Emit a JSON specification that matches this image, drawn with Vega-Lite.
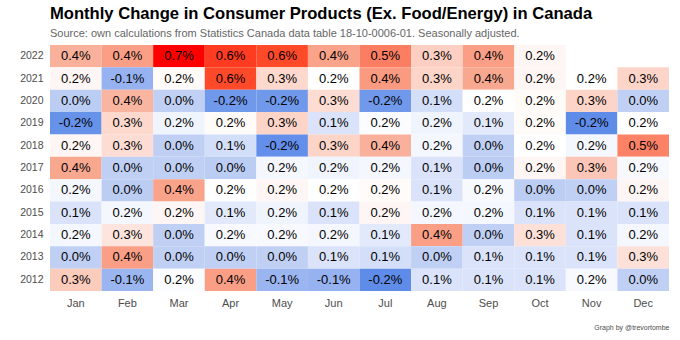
{
  "$schema": "https://vega.github.io/schema/vega-lite/v6.json",
  "width": 619,
  "height": 246,
  "autosize": {"type": "none"},
  "padding": {"left": 50, "top": 45, "right": 11, "bottom": 49},
  "background": "white",
  "config": {"view": {"stroke": null}, "font": "Liberation Sans"},
  "title": {
    "text": "Monthly Change in Consumer Products (Ex. Food/Energy) in Canada",
    "subtitle": "Source: own calculations from Statistics Canada data table 18-10-0006-01. Seasonally adjusted.",
    "anchor": "start",
    "frame": "group",
    "offset": 6,
    "font": "Liberation Sans",
    "fontSize": 16.6,
    "fontWeight": "bold",
    "color": "#000000",
    "subtitleFont": "Liberation Sans",
    "subtitleFontSize": 11,
    "subtitleColor": "#666666",
    "subtitlePadding": 5
  },
  "data": {"values": [
    {"y":2022,"m":"Jan","v":0.38,"t":"0.4%"},{"y":2022,"m":"Feb","v":0.42,"t":"0.4%"},{"y":2022,"m":"Mar","v":0.7,"t":"0.7%"},{"y":2022,"m":"Apr","v":0.62,"t":"0.6%"},{"y":2022,"m":"May","v":0.6,"t":"0.6%"},{"y":2022,"m":"Jun","v":0.41,"t":"0.4%"},{"y":2022,"m":"Jul","v":0.49,"t":"0.5%"},{"y":2022,"m":"Aug","v":0.31,"t":"0.3%"},{"y":2022,"m":"Sep","v":0.42,"t":"0.4%"},{"y":2022,"m":"Oct","v":0.22,"t":"0.2%"},
    {"y":2021,"m":"Jan","v":0.22,"t":"0.2%"},{"y":2021,"m":"Feb","v":-0.07,"t":"-0.1%"},{"y":2021,"m":"Mar","v":0.21,"t":"0.2%"},{"y":2021,"m":"Apr","v":0.6,"t":"0.6%"},{"y":2021,"m":"May","v":0.29,"t":"0.3%"},{"y":2021,"m":"Jun","v":0.2,"t":"0.2%"},{"y":2021,"m":"Jul","v":0.43,"t":"0.4%"},{"y":2021,"m":"Aug","v":0.3,"t":"0.3%"},{"y":2021,"m":"Sep","v":0.4,"t":"0.4%"},{"y":2021,"m":"Oct","v":0.22,"t":"0.2%"},{"y":2021,"m":"Nov","v":0.2,"t":"0.2%"},{"y":2021,"m":"Dec","v":0.3,"t":"0.3%"},
    {"y":2020,"m":"Jan","v":0.02,"t":"0.0%"},{"y":2020,"m":"Feb","v":0.37,"t":"0.4%"},{"y":2020,"m":"Mar","v":0.03,"t":"0.0%"},{"y":2020,"m":"Apr","v":-0.16,"t":"-0.2%"},{"y":2020,"m":"May","v":-0.16,"t":"-0.2%"},{"y":2020,"m":"Jun","v":0.28,"t":"0.3%"},{"y":2020,"m":"Jul","v":-0.16,"t":"-0.2%"},{"y":2020,"m":"Aug","v":0.08,"t":"0.1%"},{"y":2020,"m":"Sep","v":0.2,"t":"0.2%"},{"y":2020,"m":"Oct","v":0.21,"t":"0.2%"},{"y":2020,"m":"Nov","v":0.3,"t":"0.3%"},{"y":2020,"m":"Dec","v":0.03,"t":"0.0%"},
    {"y":2019,"m":"Jan","v":-0.18,"t":"-0.2%"},{"y":2019,"m":"Feb","v":0.29,"t":"0.3%"},{"y":2019,"m":"Mar","v":0.16,"t":"0.2%"},{"y":2019,"m":"Apr","v":0.21,"t":"0.2%"},{"y":2019,"m":"May","v":0.3,"t":"0.3%"},{"y":2019,"m":"Jun","v":0.1,"t":"0.1%"},{"y":2019,"m":"Jul","v":0.19,"t":"0.2%"},{"y":2019,"m":"Aug","v":0.16,"t":"0.2%"},{"y":2019,"m":"Sep","v":0.12,"t":"0.1%"},{"y":2019,"m":"Oct","v":0.21,"t":"0.2%"},{"y":2019,"m":"Nov","v":-0.2,"t":"-0.2%"},{"y":2019,"m":"Dec","v":0.2,"t":"0.2%"},
    {"y":2018,"m":"Jan","v":0.22,"t":"0.2%"},{"y":2018,"m":"Feb","v":0.28,"t":"0.3%"},{"y":2018,"m":"Mar","v":0.03,"t":"0.0%"},{"y":2018,"m":"Apr","v":0.08,"t":"0.1%"},{"y":2018,"m":"May","v":-0.19,"t":"-0.2%"},{"y":2018,"m":"Jun","v":0.3,"t":"0.3%"},{"y":2018,"m":"Jul","v":0.38,"t":"0.4%"},{"y":2018,"m":"Aug","v":0.17,"t":"0.2%"},{"y":2018,"m":"Sep","v":0.03,"t":"0.0%"},{"y":2018,"m":"Oct","v":0.2,"t":"0.2%"},{"y":2018,"m":"Nov","v":0.17,"t":"0.2%"},{"y":2018,"m":"Dec","v":0.48,"t":"0.5%"},
    {"y":2017,"m":"Jan","v":0.4,"t":"0.4%"},{"y":2017,"m":"Feb","v":0.03,"t":"0.0%"},{"y":2017,"m":"Mar","v":0.03,"t":"0.0%"},{"y":2017,"m":"Apr","v":0.02,"t":"0.0%"},{"y":2017,"m":"May","v":0.17,"t":"0.2%"},{"y":2017,"m":"Jun","v":0.16,"t":"0.2%"},{"y":2017,"m":"Jul","v":0.17,"t":"0.2%"},{"y":2017,"m":"Aug","v":0.1,"t":"0.1%"},{"y":2017,"m":"Sep","v":0.02,"t":"0.0%"},{"y":2017,"m":"Oct","v":0.22,"t":"0.2%"},{"y":2017,"m":"Nov","v":0.33,"t":"0.3%"},{"y":2017,"m":"Dec","v":0.18,"t":"0.2%"},
    {"y":2016,"m":"Jan","v":0.17,"t":"0.2%"},{"y":2016,"m":"Feb","v":0.02,"t":"0.0%"},{"y":2016,"m":"Mar","v":0.41,"t":"0.4%"},{"y":2016,"m":"Apr","v":0.2,"t":"0.2%"},{"y":2016,"m":"May","v":0.22,"t":"0.2%"},{"y":2016,"m":"Jun","v":0.2,"t":"0.2%"},{"y":2016,"m":"Jul","v":0.21,"t":"0.2%"},{"y":2016,"m":"Aug","v":0.1,"t":"0.1%"},{"y":2016,"m":"Sep","v":0.18,"t":"0.2%"},{"y":2016,"m":"Oct","v":0.02,"t":"0.0%"},{"y":2016,"m":"Nov","v":0.03,"t":"0.0%"},{"y":2016,"m":"Dec","v":0.22,"t":"0.2%"},
    {"y":2015,"m":"Jan","v":0.1,"t":"0.1%"},{"y":2015,"m":"Feb","v":0.17,"t":"0.2%"},{"y":2015,"m":"Mar","v":0.22,"t":"0.2%"},{"y":2015,"m":"Apr","v":0.12,"t":"0.1%"},{"y":2015,"m":"May","v":0.16,"t":"0.2%"},{"y":2015,"m":"Jun","v":0.1,"t":"0.1%"},{"y":2015,"m":"Jul","v":0.22,"t":"0.2%"},{"y":2015,"m":"Aug","v":0.17,"t":"0.2%"},{"y":2015,"m":"Sep","v":0.17,"t":"0.2%"},{"y":2015,"m":"Oct","v":0.1,"t":"0.1%"},{"y":2015,"m":"Nov","v":0.1,"t":"0.1%"},{"y":2015,"m":"Dec","v":0.1,"t":"0.1%"},
    {"y":2014,"m":"Jan","v":0.17,"t":"0.2%"},{"y":2014,"m":"Feb","v":0.26,"t":"0.3%"},{"y":2014,"m":"Mar","v":0.03,"t":"0.0%"},{"y":2014,"m":"Apr","v":0.18,"t":"0.2%"},{"y":2014,"m":"May","v":0.18,"t":"0.2%"},{"y":2014,"m":"Jun","v":0.17,"t":"0.2%"},{"y":2014,"m":"Jul","v":0.12,"t":"0.1%"},{"y":2014,"m":"Aug","v":0.42,"t":"0.4%"},{"y":2014,"m":"Sep","v":0.03,"t":"0.0%"},{"y":2014,"m":"Oct","v":0.27,"t":"0.3%"},{"y":2014,"m":"Nov","v":0.1,"t":"0.1%"},{"y":2014,"m":"Dec","v":0.17,"t":"0.2%"},
    {"y":2013,"m":"Jan","v":0.03,"t":"0.0%"},{"y":2013,"m":"Feb","v":0.42,"t":"0.4%"},{"y":2013,"m":"Mar","v":0.03,"t":"0.0%"},{"y":2013,"m":"Apr","v":0.03,"t":"0.0%"},{"y":2013,"m":"May","v":0.03,"t":"0.0%"},{"y":2013,"m":"Jun","v":0.1,"t":"0.1%"},{"y":2013,"m":"Jul","v":0.08,"t":"0.1%"},{"y":2013,"m":"Aug","v":0.03,"t":"0.0%"},{"y":2013,"m":"Sep","v":0.1,"t":"0.1%"},{"y":2013,"m":"Oct","v":0.1,"t":"0.1%"},{"y":2013,"m":"Nov","v":0.1,"t":"0.1%"},{"y":2013,"m":"Dec","v":0.27,"t":"0.3%"},
    {"y":2012,"m":"Jan","v":0.32,"t":"0.3%"},{"y":2012,"m":"Feb","v":-0.06,"t":"-0.1%"},{"y":2012,"m":"Mar","v":0.19,"t":"0.2%"},{"y":2012,"m":"Apr","v":0.42,"t":"0.4%"},{"y":2012,"m":"May","v":-0.06,"t":"-0.1%"},{"y":2012,"m":"Jun","v":-0.07,"t":"-0.1%"},{"y":2012,"m":"Jul","v":-0.2,"t":"-0.2%"},{"y":2012,"m":"Aug","v":0.1,"t":"0.1%"},{"y":2012,"m":"Sep","v":0.1,"t":"0.1%"},{"y":2012,"m":"Oct","v":0.1,"t":"0.1%"},{"y":2012,"m":"Nov","v":0.18,"t":"0.2%"},{"y":2012,"m":"Dec","v":0.03,"t":"0.0%"}
  ]},
  "encoding": {
    "x": {
      "field": "m", "type": "ordinal",
      "sort": ["Jan","Feb","Mar","Apr","May","Jun","Jul","Aug","Sep","Oct","Nov","Dec"],
      "scale": {"paddingInner": 0, "paddingOuter": 0},
      "axis": {
        "orient": "bottom", "labelAngle": 0, "ticks": false, "domain": false,
        "labelFontSize": 11, "labelColor": "#4d4d4d", "labelPadding": 6,
        "title": "Graph by @trevortombe", "titleAnchor": "end", "titleFontSize": 7,
        "titleFontWeight": "normal", "titleColor": "#4d4d4d", "titlePadding": 15
      }
    },
    "y": {
      "field": "y", "type": "ordinal", "sort": "descending",
      "scale": {"paddingInner": 0, "paddingOuter": 0},
      "axis": {
        "title": null, "ticks": false, "domain": false,
        "labelFontSize": 10.5, "labelColor": "#4d4d4d", "labelPadding": 7
      }
    }
  },
  "layer": [
    {
      "mark": {"type": "rect"},
      "encoding": {
        "color": {
          "field": "v", "type": "quantitative", "legend": null,
          "scale": {
            "domain": [-0.2, 0.03, 0.2, 0.4, 0.6, 0.7],
            "range": ["#5f8ce9", "#c0d0f5", "#ffffff", "#f9a890", "#ff4a2a", "#ff0000"],
            "interpolate": "rgb", "clamp": true
          }
        }
      }
    },
    {
      "mark": {"type": "text", "fontSize": 13, "color": "#000000", "font": "Liberation Sans"},
      "encoding": {"text": {"field": "t"}}
    }
  ]
}
